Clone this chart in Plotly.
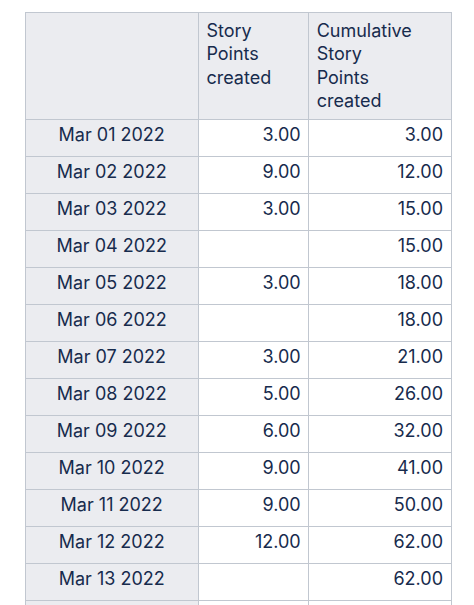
import plotly.graph_objects as go

# data
dates = ["Mar 01 2022", "Mar 02 2022", "Mar 03 2022", "Mar 04 2022", "Mar 05 2022",
         "Mar 06 2022", "Mar 07 2022", "Mar 08 2022", "Mar 09 2022", "Mar 10 2022",
         "Mar 11 2022", "Mar 12 2022", "Mar 13 2022", ""]
points = ["3.00", "9.00", "3.00", "", "3.00", "", "3.00", "5.00", "6.00", "9.00",
          "9.00", "12.00", "", ""]
cumulative = ["3.00", "12.00", "15.00", "15.00", "18.00", "18.00", "21.00", "26.00",
              "32.00", "41.00", "50.00", "62.00", "62.00", ""]
headers = ["", "Story<br>Points<br>created", "Cumulative<br>Story<br>Points<br>created"]

gray = "#ebecf0"
line = "#c1c7d0"
ink = "#172b4d"

fig = go.Figure(go.Table(
    columnwidth=[173, 110, 142],
    domain=dict(x=[17 / 474, 443 / 474], y=[0, 1 - 4 / 605]),
    header=dict(values=headers, fill_color=gray, line_color=line,
                align="left", height=100,
                font=dict(family="Inter, Noto Sans", size=18, color=ink)),
    cells=dict(values=[dates, points, cumulative],
               fill_color=[[gray] * len(dates), ["white"] * len(dates), ["white"] * len(dates)],
               line_color=line, align=["center", "right", "right"], height=37,
               font=dict(family="Inter, Noto Sans", size=18, color=ink)),
))
fig.update_layout(width=474, height=605, margin=dict(l=0, r=0, t=0, b=0),
                  paper_bgcolor="white")
fig.write_html("out.html")
